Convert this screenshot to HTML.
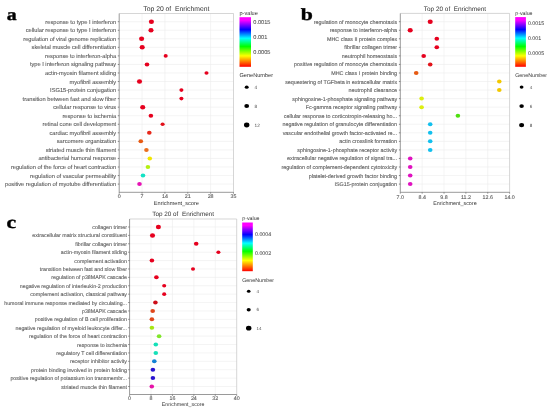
<!DOCTYPE html>
<html><head><meta charset="utf-8"><title>Top 20 of Enrichment</title>
<style>
html,body{margin:0;padding:0;background:#fff;}
body{width:550px;height:412px;overflow:hidden;}
svg{display:block;}
text{text-rendering:geometricPrecision;}
text[fill="#555555"]{stroke:#666;stroke-width:0.1px;}
</style></head>
<body>
<svg width="550" height="412" viewBox="0 0 550 412">
<rect width="550" height="412" fill="#fff"/>
<line x1="119.2" x2="233.5" y1="21.7" y2="21.7" stroke="#ececec" stroke-width="0.6"/>
<line x1="119.2" x2="233.5" y1="30.25" y2="30.25" stroke="#ececec" stroke-width="0.6"/>
<line x1="119.2" x2="233.5" y1="38.79" y2="38.79" stroke="#ececec" stroke-width="0.6"/>
<line x1="119.2" x2="233.5" y1="47.34" y2="47.34" stroke="#ececec" stroke-width="0.6"/>
<line x1="119.2" x2="233.5" y1="55.89" y2="55.89" stroke="#ececec" stroke-width="0.6"/>
<line x1="119.2" x2="233.5" y1="64.44" y2="64.44" stroke="#ececec" stroke-width="0.6"/>
<line x1="119.2" x2="233.5" y1="72.98" y2="72.98" stroke="#ececec" stroke-width="0.6"/>
<line x1="119.2" x2="233.5" y1="81.53" y2="81.53" stroke="#ececec" stroke-width="0.6"/>
<line x1="119.2" x2="233.5" y1="90.08" y2="90.08" stroke="#ececec" stroke-width="0.6"/>
<line x1="119.2" x2="233.5" y1="98.62" y2="98.62" stroke="#ececec" stroke-width="0.6"/>
<line x1="119.2" x2="233.5" y1="107.17" y2="107.17" stroke="#ececec" stroke-width="0.6"/>
<line x1="119.2" x2="233.5" y1="115.72" y2="115.72" stroke="#ececec" stroke-width="0.6"/>
<line x1="119.2" x2="233.5" y1="124.26" y2="124.26" stroke="#ececec" stroke-width="0.6"/>
<line x1="119.2" x2="233.5" y1="132.81" y2="132.81" stroke="#ececec" stroke-width="0.6"/>
<line x1="119.2" x2="233.5" y1="141.36" y2="141.36" stroke="#ececec" stroke-width="0.6"/>
<line x1="119.2" x2="233.5" y1="149.91" y2="149.91" stroke="#ececec" stroke-width="0.6"/>
<line x1="119.2" x2="233.5" y1="158.45" y2="158.45" stroke="#ececec" stroke-width="0.6"/>
<line x1="119.2" x2="233.5" y1="167" y2="167" stroke="#ececec" stroke-width="0.6"/>
<line x1="119.2" x2="233.5" y1="175.55" y2="175.55" stroke="#ececec" stroke-width="0.6"/>
<line x1="119.2" x2="233.5" y1="184.09" y2="184.09" stroke="#ececec" stroke-width="0.6"/>
<line x1="142.06" x2="142.06" y1="13.5" y2="192.3" stroke="#ececec" stroke-width="0.6"/>
<line x1="164.92" x2="164.92" y1="13.5" y2="192.3" stroke="#ececec" stroke-width="0.6"/>
<line x1="187.78" x2="187.78" y1="13.5" y2="192.3" stroke="#ececec" stroke-width="0.6"/>
<line x1="210.64" x2="210.64" y1="13.5" y2="192.3" stroke="#ececec" stroke-width="0.6"/>
<path d="M119.2 13.5 H233.5 V192.3" fill="none" stroke="#c4c4c4" stroke-width="0.7"/>
<path d="M119.2 13.5 V192.3 H233.5" fill="none" stroke="#9a9a9a" stroke-width="1.0"/>
<line x1="117.8" x2="119.2" y1="21.7" y2="21.7" stroke="#6a6a6a" stroke-width="0.8"/>
<line x1="117.8" x2="119.2" y1="30.25" y2="30.25" stroke="#6a6a6a" stroke-width="0.8"/>
<line x1="117.8" x2="119.2" y1="38.79" y2="38.79" stroke="#6a6a6a" stroke-width="0.8"/>
<line x1="117.8" x2="119.2" y1="47.34" y2="47.34" stroke="#6a6a6a" stroke-width="0.8"/>
<line x1="117.8" x2="119.2" y1="55.89" y2="55.89" stroke="#6a6a6a" stroke-width="0.8"/>
<line x1="117.8" x2="119.2" y1="64.44" y2="64.44" stroke="#6a6a6a" stroke-width="0.8"/>
<line x1="117.8" x2="119.2" y1="72.98" y2="72.98" stroke="#6a6a6a" stroke-width="0.8"/>
<line x1="117.8" x2="119.2" y1="81.53" y2="81.53" stroke="#6a6a6a" stroke-width="0.8"/>
<line x1="117.8" x2="119.2" y1="90.08" y2="90.08" stroke="#6a6a6a" stroke-width="0.8"/>
<line x1="117.8" x2="119.2" y1="98.62" y2="98.62" stroke="#6a6a6a" stroke-width="0.8"/>
<line x1="117.8" x2="119.2" y1="107.17" y2="107.17" stroke="#6a6a6a" stroke-width="0.8"/>
<line x1="117.8" x2="119.2" y1="115.72" y2="115.72" stroke="#6a6a6a" stroke-width="0.8"/>
<line x1="117.8" x2="119.2" y1="124.26" y2="124.26" stroke="#6a6a6a" stroke-width="0.8"/>
<line x1="117.8" x2="119.2" y1="132.81" y2="132.81" stroke="#6a6a6a" stroke-width="0.8"/>
<line x1="117.8" x2="119.2" y1="141.36" y2="141.36" stroke="#6a6a6a" stroke-width="0.8"/>
<line x1="117.8" x2="119.2" y1="149.91" y2="149.91" stroke="#6a6a6a" stroke-width="0.8"/>
<line x1="117.8" x2="119.2" y1="158.45" y2="158.45" stroke="#6a6a6a" stroke-width="0.8"/>
<line x1="117.8" x2="119.2" y1="167" y2="167" stroke="#6a6a6a" stroke-width="0.8"/>
<line x1="117.8" x2="119.2" y1="175.55" y2="175.55" stroke="#6a6a6a" stroke-width="0.8"/>
<line x1="117.8" x2="119.2" y1="184.09" y2="184.09" stroke="#6a6a6a" stroke-width="0.8"/>
<line x1="119.2" x2="119.2" y1="192.3" y2="193.6" stroke="#6a6a6a" stroke-width="0.8"/>
<line x1="142.06" x2="142.06" y1="192.3" y2="193.6" stroke="#6a6a6a" stroke-width="0.8"/>
<line x1="164.92" x2="164.92" y1="192.3" y2="193.6" stroke="#6a6a6a" stroke-width="0.8"/>
<line x1="187.78" x2="187.78" y1="192.3" y2="193.6" stroke="#6a6a6a" stroke-width="0.8"/>
<line x1="210.64" x2="210.64" y1="192.3" y2="193.6" stroke="#6a6a6a" stroke-width="0.8"/>
<line x1="233.5" x2="233.5" y1="192.3" y2="193.6" stroke="#6a6a6a" stroke-width="0.8"/>
<text x="116.2" y="23.7" font-size="5.7" fill="#555555" text-anchor="end" font-weight="normal" font-family='"Liberation Sans", Arial, sans-serif'>response to type I interferon</text>
<text x="116.2" y="32.25" font-size="5.7" fill="#555555" text-anchor="end" font-weight="normal" font-family='"Liberation Sans", Arial, sans-serif'>cellular response to type I interferon</text>
<text x="116.2" y="40.79" font-size="5.7" fill="#555555" text-anchor="end" font-weight="normal" font-family='"Liberation Sans", Arial, sans-serif'>regulation of viral genome replication</text>
<text x="116.2" y="49.34" font-size="5.7" fill="#555555" text-anchor="end" font-weight="normal" font-family='"Liberation Sans", Arial, sans-serif'>skeletal muscle cell differentiation</text>
<text x="116.2" y="57.89" font-size="5.7" fill="#555555" text-anchor="end" font-weight="normal" font-family='"Liberation Sans", Arial, sans-serif'>response to interferon-alpha</text>
<text x="116.2" y="66.44" font-size="5.7" fill="#555555" text-anchor="end" font-weight="normal" font-family='"Liberation Sans", Arial, sans-serif'>type I interferon signaling pathway</text>
<text x="116.2" y="74.98" font-size="5.7" fill="#555555" text-anchor="end" font-weight="normal" font-family='"Liberation Sans", Arial, sans-serif'>actin-myosin filament sliding</text>
<text x="116.2" y="83.53" font-size="5.7" fill="#555555" text-anchor="end" font-weight="normal" font-family='"Liberation Sans", Arial, sans-serif'>myofibril assembly</text>
<text x="116.2" y="92.08" font-size="5.7" fill="#555555" text-anchor="end" font-weight="normal" font-family='"Liberation Sans", Arial, sans-serif'>ISG15-protein conjugation</text>
<text x="116.2" y="100.62" font-size="5.7" fill="#555555" text-anchor="end" font-weight="normal" font-family='"Liberation Sans", Arial, sans-serif'>transition between fast and slow fiber</text>
<text x="116.2" y="109.17" font-size="5.7" fill="#555555" text-anchor="end" font-weight="normal" font-family='"Liberation Sans", Arial, sans-serif'>cellular response to virus</text>
<text x="116.2" y="117.72" font-size="5.7" fill="#555555" text-anchor="end" font-weight="normal" font-family='"Liberation Sans", Arial, sans-serif'>response to ischemia</text>
<text x="116.2" y="126.26" font-size="5.7" fill="#555555" text-anchor="end" font-weight="normal" font-family='"Liberation Sans", Arial, sans-serif'>retinal cone cell development</text>
<text x="116.2" y="134.81" font-size="5.7" fill="#555555" text-anchor="end" font-weight="normal" font-family='"Liberation Sans", Arial, sans-serif'>cardiac myofibril assembly</text>
<text x="116.2" y="143.36" font-size="5.7" fill="#555555" text-anchor="end" font-weight="normal" font-family='"Liberation Sans", Arial, sans-serif'>sarcomere organization</text>
<text x="116.2" y="151.91" font-size="5.7" fill="#555555" text-anchor="end" font-weight="normal" font-family='"Liberation Sans", Arial, sans-serif'>striated muscle thin filament</text>
<text x="116.2" y="160.45" font-size="5.7" fill="#555555" text-anchor="end" font-weight="normal" font-family='"Liberation Sans", Arial, sans-serif'>antibacterial humoral response</text>
<text x="116.2" y="169" font-size="5.7" fill="#555555" text-anchor="end" font-weight="normal" font-family='"Liberation Sans", Arial, sans-serif'>regulation of the force of heart contraction</text>
<text x="116.2" y="177.55" font-size="5.7" fill="#555555" text-anchor="end" font-weight="normal" font-family='"Liberation Sans", Arial, sans-serif'>regulation of vascular permeability</text>
<text x="116.2" y="186.09" font-size="5.7" fill="#555555" text-anchor="end" font-weight="normal" font-family='"Liberation Sans", Arial, sans-serif'>positive regulation of myotube differentiation</text>
<text x="119.2" y="198.2" font-size="5.3" fill="#555555" text-anchor="middle" font-weight="normal" font-family='"Liberation Sans", Arial, sans-serif'>0</text>
<text x="142.06" y="198.2" font-size="5.3" fill="#555555" text-anchor="middle" font-weight="normal" font-family='"Liberation Sans", Arial, sans-serif'>7</text>
<text x="164.92" y="198.2" font-size="5.3" fill="#555555" text-anchor="middle" font-weight="normal" font-family='"Liberation Sans", Arial, sans-serif'>14</text>
<text x="187.78" y="198.2" font-size="5.3" fill="#555555" text-anchor="middle" font-weight="normal" font-family='"Liberation Sans", Arial, sans-serif'>21</text>
<text x="210.64" y="198.2" font-size="5.3" fill="#555555" text-anchor="middle" font-weight="normal" font-family='"Liberation Sans", Arial, sans-serif'>28</text>
<text x="233.5" y="198.2" font-size="5.3" fill="#555555" text-anchor="middle" font-weight="normal" font-family='"Liberation Sans", Arial, sans-serif'>35</text>
<text x="176.35" y="204.9" font-size="5.6" fill="#333333" text-anchor="middle" font-weight="normal" font-family='"Liberation Sans", Arial, sans-serif'>Enrichment_score</text>
<text x="176.35" y="10.9" font-size="6.8" fill="#333333" text-anchor="middle" font-weight="normal" font-family='"Liberation Sans", Arial, sans-serif'>Top 20 of  Enrichment</text>
<ellipse cx="151.4" cy="21.7" rx="2.55" ry="2.25" fill="#e6001e"/>
<ellipse cx="151" cy="30.25" rx="2.55" ry="2.25" fill="#e6001e"/>
<ellipse cx="141.6" cy="38.79" rx="2.55" ry="2.25" fill="#e6001e"/>
<ellipse cx="142.2" cy="47.34" rx="2.55" ry="2.25" fill="#e6001e"/>
<ellipse cx="165.7" cy="55.89" rx="2.05" ry="1.8" fill="#e6001e"/>
<ellipse cx="147" cy="64.44" rx="2.3" ry="2" fill="#e6001e"/>
<ellipse cx="206.5" cy="72.98" rx="2.05" ry="1.8" fill="#e6001e"/>
<ellipse cx="139.5" cy="81.53" rx="2.55" ry="2.25" fill="#e6001e"/>
<ellipse cx="181.4" cy="90.08" rx="2.05" ry="1.8" fill="#e6001e"/>
<ellipse cx="181.4" cy="98.62" rx="2.05" ry="1.8" fill="#e6001e"/>
<ellipse cx="142.7" cy="107.17" rx="2.55" ry="2.25" fill="#e6001e"/>
<ellipse cx="150.9" cy="115.72" rx="2.3" ry="2" fill="#e6001e"/>
<ellipse cx="162.6" cy="124.26" rx="2.05" ry="1.8" fill="#e2101a"/>
<ellipse cx="149.3" cy="132.81" rx="2.3" ry="2" fill="#e8281a"/>
<ellipse cx="140.8" cy="141.36" rx="2.3" ry="2" fill="#e85a12"/>
<ellipse cx="146.4" cy="149.91" rx="2.3" ry="2" fill="#ea6e1e"/>
<ellipse cx="149.8" cy="158.45" rx="2.3" ry="2" fill="#f2e600"/>
<ellipse cx="147.9" cy="167" rx="2.3" ry="2" fill="#b4f010"/>
<ellipse cx="143" cy="175.55" rx="2.3" ry="2" fill="#12e2c4"/>
<ellipse cx="139.5" cy="184.09" rx="2.3" ry="2" fill="#e612b4"/>
<text transform="translate(6.8,20.2) scale(1.2,1)" font-size="16.5" fill="#000" stroke="#000" stroke-width="0.35" font-weight="bold" font-family='"Liberation Serif", "Times New Roman", serif'>a</text>
<defs><linearGradient id="ga" x1="0" y1="1" x2="0" y2="0"><stop offset="0" stop-color="#ff0000"/><stop offset="0.22" stop-color="#ffff00"/><stop offset="0.41" stop-color="#00ff00"/><stop offset="0.575" stop-color="#00ffff"/><stop offset="0.75" stop-color="#0000ff"/><stop offset="0.94" stop-color="#ff00ff"/><stop offset="1" stop-color="#ff00ff"/></linearGradient></defs>
<rect x="239.5" y="17.2" width="11.5" height="49.6" fill="url(#ga)"/>
<text x="239.5" y="14.8" font-size="5.6" fill="#333333" text-anchor="start" font-weight="normal" font-family='"Liberation Sans", Arial, sans-serif'>p-value</text>
<text x="253.3" y="24.02" font-size="5.6" fill="#555555" text-anchor="start" font-weight="normal" font-family='"Liberation Sans", Arial, sans-serif'>0.0015</text>
<text x="253.3" y="39.02" font-size="5.6" fill="#555555" text-anchor="start" font-weight="normal" font-family='"Liberation Sans", Arial, sans-serif'>0.001</text>
<text x="253.3" y="54.02" font-size="5.6" fill="#555555" text-anchor="start" font-weight="normal" font-family='"Liberation Sans", Arial, sans-serif'>0.0005</text>
<text x="239.5" y="77.1" font-size="5.6" fill="#333333" text-anchor="start" font-weight="normal" font-family='"Liberation Sans", Arial, sans-serif'>GeneNumber</text>
<ellipse cx="246.7" cy="87.2" rx="1.95" ry="1.65" fill="#000"/>
<text x="254.6" y="88.88" font-size="4.76" fill="#505050" text-anchor="start" font-weight="normal" font-family='"Liberation Sans", Arial, sans-serif'>4</text>
<ellipse cx="246.7" cy="106" rx="2.4" ry="2.05" fill="#000"/>
<text x="254.6" y="107.68" font-size="4.76" fill="#505050" text-anchor="start" font-weight="normal" font-family='"Liberation Sans", Arial, sans-serif'>8</text>
<ellipse cx="246.7" cy="125" rx="2.75" ry="2.45" fill="#000"/>
<text x="254.6" y="126.68" font-size="4.76" fill="#505050" text-anchor="start" font-weight="normal" font-family='"Liberation Sans", Arial, sans-serif'>12</text>
<line x1="400.3" x2="509.6" y1="21.7" y2="21.7" stroke="#ececec" stroke-width="0.6"/>
<line x1="400.3" x2="509.6" y1="30.25" y2="30.25" stroke="#ececec" stroke-width="0.6"/>
<line x1="400.3" x2="509.6" y1="38.79" y2="38.79" stroke="#ececec" stroke-width="0.6"/>
<line x1="400.3" x2="509.6" y1="47.34" y2="47.34" stroke="#ececec" stroke-width="0.6"/>
<line x1="400.3" x2="509.6" y1="55.89" y2="55.89" stroke="#ececec" stroke-width="0.6"/>
<line x1="400.3" x2="509.6" y1="64.44" y2="64.44" stroke="#ececec" stroke-width="0.6"/>
<line x1="400.3" x2="509.6" y1="72.98" y2="72.98" stroke="#ececec" stroke-width="0.6"/>
<line x1="400.3" x2="509.6" y1="81.53" y2="81.53" stroke="#ececec" stroke-width="0.6"/>
<line x1="400.3" x2="509.6" y1="90.08" y2="90.08" stroke="#ececec" stroke-width="0.6"/>
<line x1="400.3" x2="509.6" y1="98.62" y2="98.62" stroke="#ececec" stroke-width="0.6"/>
<line x1="400.3" x2="509.6" y1="107.17" y2="107.17" stroke="#ececec" stroke-width="0.6"/>
<line x1="400.3" x2="509.6" y1="115.72" y2="115.72" stroke="#ececec" stroke-width="0.6"/>
<line x1="400.3" x2="509.6" y1="124.26" y2="124.26" stroke="#ececec" stroke-width="0.6"/>
<line x1="400.3" x2="509.6" y1="132.81" y2="132.81" stroke="#ececec" stroke-width="0.6"/>
<line x1="400.3" x2="509.6" y1="141.36" y2="141.36" stroke="#ececec" stroke-width="0.6"/>
<line x1="400.3" x2="509.6" y1="149.91" y2="149.91" stroke="#ececec" stroke-width="0.6"/>
<line x1="400.3" x2="509.6" y1="158.45" y2="158.45" stroke="#ececec" stroke-width="0.6"/>
<line x1="400.3" x2="509.6" y1="167" y2="167" stroke="#ececec" stroke-width="0.6"/>
<line x1="400.3" x2="509.6" y1="175.55" y2="175.55" stroke="#ececec" stroke-width="0.6"/>
<line x1="400.3" x2="509.6" y1="184.09" y2="184.09" stroke="#ececec" stroke-width="0.6"/>
<line x1="422.16" x2="422.16" y1="13.4" y2="192.3" stroke="#ececec" stroke-width="0.6"/>
<line x1="444.02" x2="444.02" y1="13.4" y2="192.3" stroke="#ececec" stroke-width="0.6"/>
<line x1="465.88" x2="465.88" y1="13.4" y2="192.3" stroke="#ececec" stroke-width="0.6"/>
<line x1="487.74" x2="487.74" y1="13.4" y2="192.3" stroke="#ececec" stroke-width="0.6"/>
<path d="M400.3 13.4 H509.6 V192.3" fill="none" stroke="#c4c4c4" stroke-width="0.7"/>
<path d="M400.3 13.4 V192.3 H509.6" fill="none" stroke="#9a9a9a" stroke-width="1.0"/>
<line x1="398.9" x2="400.3" y1="21.7" y2="21.7" stroke="#6a6a6a" stroke-width="0.8"/>
<line x1="398.9" x2="400.3" y1="30.25" y2="30.25" stroke="#6a6a6a" stroke-width="0.8"/>
<line x1="398.9" x2="400.3" y1="38.79" y2="38.79" stroke="#6a6a6a" stroke-width="0.8"/>
<line x1="398.9" x2="400.3" y1="47.34" y2="47.34" stroke="#6a6a6a" stroke-width="0.8"/>
<line x1="398.9" x2="400.3" y1="55.89" y2="55.89" stroke="#6a6a6a" stroke-width="0.8"/>
<line x1="398.9" x2="400.3" y1="64.44" y2="64.44" stroke="#6a6a6a" stroke-width="0.8"/>
<line x1="398.9" x2="400.3" y1="72.98" y2="72.98" stroke="#6a6a6a" stroke-width="0.8"/>
<line x1="398.9" x2="400.3" y1="81.53" y2="81.53" stroke="#6a6a6a" stroke-width="0.8"/>
<line x1="398.9" x2="400.3" y1="90.08" y2="90.08" stroke="#6a6a6a" stroke-width="0.8"/>
<line x1="398.9" x2="400.3" y1="98.62" y2="98.62" stroke="#6a6a6a" stroke-width="0.8"/>
<line x1="398.9" x2="400.3" y1="107.17" y2="107.17" stroke="#6a6a6a" stroke-width="0.8"/>
<line x1="398.9" x2="400.3" y1="115.72" y2="115.72" stroke="#6a6a6a" stroke-width="0.8"/>
<line x1="398.9" x2="400.3" y1="124.26" y2="124.26" stroke="#6a6a6a" stroke-width="0.8"/>
<line x1="398.9" x2="400.3" y1="132.81" y2="132.81" stroke="#6a6a6a" stroke-width="0.8"/>
<line x1="398.9" x2="400.3" y1="141.36" y2="141.36" stroke="#6a6a6a" stroke-width="0.8"/>
<line x1="398.9" x2="400.3" y1="149.91" y2="149.91" stroke="#6a6a6a" stroke-width="0.8"/>
<line x1="398.9" x2="400.3" y1="158.45" y2="158.45" stroke="#6a6a6a" stroke-width="0.8"/>
<line x1="398.9" x2="400.3" y1="167" y2="167" stroke="#6a6a6a" stroke-width="0.8"/>
<line x1="398.9" x2="400.3" y1="175.55" y2="175.55" stroke="#6a6a6a" stroke-width="0.8"/>
<line x1="398.9" x2="400.3" y1="184.09" y2="184.09" stroke="#6a6a6a" stroke-width="0.8"/>
<line x1="400.3" x2="400.3" y1="192.3" y2="193.6" stroke="#6a6a6a" stroke-width="0.8"/>
<line x1="422.16" x2="422.16" y1="192.3" y2="193.6" stroke="#6a6a6a" stroke-width="0.8"/>
<line x1="444.02" x2="444.02" y1="192.3" y2="193.6" stroke="#6a6a6a" stroke-width="0.8"/>
<line x1="465.88" x2="465.88" y1="192.3" y2="193.6" stroke="#6a6a6a" stroke-width="0.8"/>
<line x1="487.74" x2="487.74" y1="192.3" y2="193.6" stroke="#6a6a6a" stroke-width="0.8"/>
<line x1="509.6" x2="509.6" y1="192.3" y2="193.6" stroke="#6a6a6a" stroke-width="0.8"/>
<text x="397.1" y="23.7" font-size="5.4" fill="#555555" text-anchor="end" font-weight="normal" font-family='"Liberation Sans", Arial, sans-serif'>regulation of monocyte chemotaxis</text>
<text x="397.1" y="32.25" font-size="5.4" fill="#555555" text-anchor="end" font-weight="normal" font-family='"Liberation Sans", Arial, sans-serif'>response to interferon-alpha</text>
<text x="397.1" y="40.79" font-size="5.4" fill="#555555" text-anchor="end" font-weight="normal" font-family='"Liberation Sans", Arial, sans-serif'>MHC class II protein complex</text>
<text x="397.1" y="49.34" font-size="5.4" fill="#555555" text-anchor="end" font-weight="normal" font-family='"Liberation Sans", Arial, sans-serif'>fibrillar collagen trimer</text>
<text x="397.1" y="57.89" font-size="5.4" fill="#555555" text-anchor="end" font-weight="normal" font-family='"Liberation Sans", Arial, sans-serif'>neutrophil homeostasis</text>
<text x="397.1" y="66.44" font-size="5.4" fill="#555555" text-anchor="end" font-weight="normal" font-family='"Liberation Sans", Arial, sans-serif'>positive regulation of monocyte chemotaxis</text>
<text x="397.1" y="74.98" font-size="5.4" fill="#555555" text-anchor="end" font-weight="normal" font-family='"Liberation Sans", Arial, sans-serif'>MHC class I protein binding</text>
<text x="397.1" y="83.53" font-size="5.4" fill="#555555" text-anchor="end" font-weight="normal" font-family='"Liberation Sans", Arial, sans-serif'>sequestering of TGFbeta in extracellular matrix</text>
<text x="397.1" y="92.08" font-size="5.4" fill="#555555" text-anchor="end" font-weight="normal" font-family='"Liberation Sans", Arial, sans-serif'>neutrophil clearance</text>
<text x="397.1" y="100.62" font-size="5.4" fill="#555555" text-anchor="end" font-weight="normal" font-family='"Liberation Sans", Arial, sans-serif'>sphingosine-1-phosphate signaling pathway</text>
<text x="397.1" y="109.17" font-size="5.4" fill="#555555" text-anchor="end" font-weight="normal" font-family='"Liberation Sans", Arial, sans-serif'>Fc-gamma receptor signaling pathway</text>
<text x="397.1" y="117.72" font-size="5.4" fill="#555555" text-anchor="end" font-weight="normal" font-family='"Liberation Sans", Arial, sans-serif'>cellular response to corticotropin-releasing ho...</text>
<text x="397.1" y="126.26" font-size="5.4" fill="#555555" text-anchor="end" font-weight="normal" font-family='"Liberation Sans", Arial, sans-serif'>negative regulation of granulocyte differentiation</text>
<text x="397.1" y="134.81" font-size="5.4" fill="#555555" text-anchor="end" font-weight="normal" font-family='"Liberation Sans", Arial, sans-serif'>vascular endothelial growth factor-activated re...</text>
<text x="397.1" y="143.36" font-size="5.4" fill="#555555" text-anchor="end" font-weight="normal" font-family='"Liberation Sans", Arial, sans-serif'>actin crosslink formation</text>
<text x="397.1" y="151.91" font-size="5.4" fill="#555555" text-anchor="end" font-weight="normal" font-family='"Liberation Sans", Arial, sans-serif'>sphingosine-1-phosphate receptor activity</text>
<text x="397.1" y="160.45" font-size="5.4" fill="#555555" text-anchor="end" font-weight="normal" font-family='"Liberation Sans", Arial, sans-serif'>extracellular negative regulation of signal tra...</text>
<text x="397.1" y="169" font-size="5.4" fill="#555555" text-anchor="end" font-weight="normal" font-family='"Liberation Sans", Arial, sans-serif'>regulation of complement-dependent cytotoxicity</text>
<text x="397.1" y="177.55" font-size="5.4" fill="#555555" text-anchor="end" font-weight="normal" font-family='"Liberation Sans", Arial, sans-serif'>platelet-derived growth factor binding</text>
<text x="397.1" y="186.09" font-size="5.4" fill="#555555" text-anchor="end" font-weight="normal" font-family='"Liberation Sans", Arial, sans-serif'>ISG15-protein conjugation</text>
<text x="400.3" y="198.8" font-size="5.3" fill="#555555" text-anchor="middle" font-weight="normal" font-family='"Liberation Sans", Arial, sans-serif'>7.0</text>
<text x="422.16" y="198.8" font-size="5.3" fill="#555555" text-anchor="middle" font-weight="normal" font-family='"Liberation Sans", Arial, sans-serif'>8.4</text>
<text x="444.02" y="198.8" font-size="5.3" fill="#555555" text-anchor="middle" font-weight="normal" font-family='"Liberation Sans", Arial, sans-serif'>9.8</text>
<text x="465.88" y="198.8" font-size="5.3" fill="#555555" text-anchor="middle" font-weight="normal" font-family='"Liberation Sans", Arial, sans-serif'>11.2</text>
<text x="487.74" y="198.8" font-size="5.3" fill="#555555" text-anchor="middle" font-weight="normal" font-family='"Liberation Sans", Arial, sans-serif'>12.6</text>
<text x="509.6" y="198.8" font-size="5.3" fill="#555555" text-anchor="middle" font-weight="normal" font-family='"Liberation Sans", Arial, sans-serif'>14.0</text>
<text x="454.95" y="204.9" font-size="5.4" fill="#333333" text-anchor="middle" font-weight="normal" font-family='"Liberation Sans", Arial, sans-serif'>Enrichment_score</text>
<text x="454.95" y="10.9" font-size="6.4" fill="#333333" text-anchor="middle" font-weight="normal" font-family='"Liberation Sans", Arial, sans-serif'>Top 20 of  Enrichment</text>
<ellipse cx="430.2" cy="21.7" rx="2.55" ry="2.25" fill="#e6001e"/>
<ellipse cx="410.2" cy="30.25" rx="2.55" ry="2.25" fill="#e6001e"/>
<ellipse cx="436.8" cy="38.79" rx="2.3" ry="2" fill="#e6001e"/>
<ellipse cx="436.8" cy="47.34" rx="2.3" ry="2" fill="#e6001e"/>
<ellipse cx="423.7" cy="55.89" rx="2.3" ry="2" fill="#e6001e"/>
<ellipse cx="430.2" cy="64.44" rx="2.3" ry="2" fill="#e2141a"/>
<ellipse cx="416.2" cy="72.98" rx="2.3" ry="2" fill="#e65a12"/>
<ellipse cx="499.3" cy="81.53" rx="2.3" ry="2" fill="#f2c800"/>
<ellipse cx="499.3" cy="90.08" rx="2.3" ry="2" fill="#f2c800"/>
<ellipse cx="421.6" cy="98.62" rx="2.3" ry="2" fill="#dcee10"/>
<ellipse cx="421.6" cy="107.17" rx="2.3" ry="2" fill="#dcee10"/>
<ellipse cx="457.9" cy="115.72" rx="2.3" ry="2" fill="#4ee010"/>
<ellipse cx="430.2" cy="124.26" rx="2.3" ry="2" fill="#12c0ee"/>
<ellipse cx="430.2" cy="132.81" rx="2.3" ry="2" fill="#12c0ee"/>
<ellipse cx="430.2" cy="141.36" rx="2.3" ry="2" fill="#12c0ee"/>
<ellipse cx="430.2" cy="149.91" rx="2.3" ry="2" fill="#12c0ee"/>
<ellipse cx="410.2" cy="158.45" rx="2.3" ry="2" fill="#e012c0"/>
<ellipse cx="410.2" cy="167" rx="2.3" ry="2" fill="#e012c0"/>
<ellipse cx="410.2" cy="175.55" rx="2.3" ry="2" fill="#e012c0"/>
<ellipse cx="410.2" cy="184.09" rx="2.3" ry="2" fill="#e012c0"/>
<text transform="translate(300.8,20.2) scale(1.28,1)" font-size="17" fill="#000" stroke="#000" stroke-width="0.35" font-weight="bold" font-family='"Liberation Serif", "Times New Roman", serif'>b</text>
<defs><linearGradient id="gb" x1="0" y1="1" x2="0" y2="0"><stop offset="0" stop-color="#ff0000"/><stop offset="0.22" stop-color="#ffff00"/><stop offset="0.41" stop-color="#00ff00"/><stop offset="0.575" stop-color="#00ffff"/><stop offset="0.75" stop-color="#0000ff"/><stop offset="0.94" stop-color="#ff00ff"/><stop offset="1" stop-color="#ff00ff"/></linearGradient></defs>
<rect x="515.2" y="17.1" width="10.7" height="49.7" fill="url(#gb)"/>
<text x="515.2" y="14.8" font-size="5.3" fill="#333333" text-anchor="start" font-weight="normal" font-family='"Liberation Sans", Arial, sans-serif'>p-value</text>
<text x="527.9" y="25.31" font-size="5.3" fill="#555555" text-anchor="start" font-weight="normal" font-family='"Liberation Sans", Arial, sans-serif'>0.0015</text>
<text x="527.9" y="40.11" font-size="5.3" fill="#555555" text-anchor="start" font-weight="normal" font-family='"Liberation Sans", Arial, sans-serif'>0.001</text>
<text x="527.9" y="55.01" font-size="5.3" fill="#555555" text-anchor="start" font-weight="normal" font-family='"Liberation Sans", Arial, sans-serif'>0.0005</text>
<text x="515.2" y="77.1" font-size="5.3" fill="#333333" text-anchor="start" font-weight="normal" font-family='"Liberation Sans", Arial, sans-serif'>GeneNumber</text>
<ellipse cx="521.6" cy="87.1" rx="1.9" ry="1.65" fill="#000"/>
<text x="529.8" y="88.69" font-size="4.505" fill="#505050" text-anchor="start" font-weight="normal" font-family='"Liberation Sans", Arial, sans-serif'>4</text>
<ellipse cx="521.6" cy="106.1" rx="2.25" ry="1.95" fill="#000"/>
<text x="529.8" y="107.69" font-size="4.505" fill="#505050" text-anchor="start" font-weight="normal" font-family='"Liberation Sans", Arial, sans-serif'>6</text>
<ellipse cx="521.6" cy="125.1" rx="2.55" ry="2.2" fill="#000"/>
<text x="529.8" y="126.69" font-size="4.505" fill="#505050" text-anchor="start" font-weight="normal" font-family='"Liberation Sans", Arial, sans-serif'>8</text>
<line x1="129.6" x2="236.7" y1="227" y2="227" stroke="#ececec" stroke-width="0.6"/>
<line x1="129.6" x2="236.7" y1="235.4" y2="235.4" stroke="#ececec" stroke-width="0.6"/>
<line x1="129.6" x2="236.7" y1="243.79" y2="243.79" stroke="#ececec" stroke-width="0.6"/>
<line x1="129.6" x2="236.7" y1="252.19" y2="252.19" stroke="#ececec" stroke-width="0.6"/>
<line x1="129.6" x2="236.7" y1="260.58" y2="260.58" stroke="#ececec" stroke-width="0.6"/>
<line x1="129.6" x2="236.7" y1="268.98" y2="268.98" stroke="#ececec" stroke-width="0.6"/>
<line x1="129.6" x2="236.7" y1="277.37" y2="277.37" stroke="#ececec" stroke-width="0.6"/>
<line x1="129.6" x2="236.7" y1="285.76" y2="285.76" stroke="#ececec" stroke-width="0.6"/>
<line x1="129.6" x2="236.7" y1="294.16" y2="294.16" stroke="#ececec" stroke-width="0.6"/>
<line x1="129.6" x2="236.7" y1="302.56" y2="302.56" stroke="#ececec" stroke-width="0.6"/>
<line x1="129.6" x2="236.7" y1="310.95" y2="310.95" stroke="#ececec" stroke-width="0.6"/>
<line x1="129.6" x2="236.7" y1="319.35" y2="319.35" stroke="#ececec" stroke-width="0.6"/>
<line x1="129.6" x2="236.7" y1="327.74" y2="327.74" stroke="#ececec" stroke-width="0.6"/>
<line x1="129.6" x2="236.7" y1="336.13" y2="336.13" stroke="#ececec" stroke-width="0.6"/>
<line x1="129.6" x2="236.7" y1="344.53" y2="344.53" stroke="#ececec" stroke-width="0.6"/>
<line x1="129.6" x2="236.7" y1="352.93" y2="352.93" stroke="#ececec" stroke-width="0.6"/>
<line x1="129.6" x2="236.7" y1="361.32" y2="361.32" stroke="#ececec" stroke-width="0.6"/>
<line x1="129.6" x2="236.7" y1="369.72" y2="369.72" stroke="#ececec" stroke-width="0.6"/>
<line x1="129.6" x2="236.7" y1="378.11" y2="378.11" stroke="#ececec" stroke-width="0.6"/>
<line x1="129.6" x2="236.7" y1="386.5" y2="386.5" stroke="#ececec" stroke-width="0.6"/>
<line x1="151.02" x2="151.02" y1="219" y2="394.5" stroke="#ececec" stroke-width="0.6"/>
<line x1="172.44" x2="172.44" y1="219" y2="394.5" stroke="#ececec" stroke-width="0.6"/>
<line x1="193.86" x2="193.86" y1="219" y2="394.5" stroke="#ececec" stroke-width="0.6"/>
<line x1="215.28" x2="215.28" y1="219" y2="394.5" stroke="#ececec" stroke-width="0.6"/>
<path d="M129.6 219 H236.7 V394.5" fill="none" stroke="#c4c4c4" stroke-width="0.7"/>
<path d="M129.6 219 V394.5 H236.7" fill="none" stroke="#9a9a9a" stroke-width="1.0"/>
<line x1="128.2" x2="129.6" y1="227" y2="227" stroke="#6a6a6a" stroke-width="0.8"/>
<line x1="128.2" x2="129.6" y1="235.4" y2="235.4" stroke="#6a6a6a" stroke-width="0.8"/>
<line x1="128.2" x2="129.6" y1="243.79" y2="243.79" stroke="#6a6a6a" stroke-width="0.8"/>
<line x1="128.2" x2="129.6" y1="252.19" y2="252.19" stroke="#6a6a6a" stroke-width="0.8"/>
<line x1="128.2" x2="129.6" y1="260.58" y2="260.58" stroke="#6a6a6a" stroke-width="0.8"/>
<line x1="128.2" x2="129.6" y1="268.98" y2="268.98" stroke="#6a6a6a" stroke-width="0.8"/>
<line x1="128.2" x2="129.6" y1="277.37" y2="277.37" stroke="#6a6a6a" stroke-width="0.8"/>
<line x1="128.2" x2="129.6" y1="285.76" y2="285.76" stroke="#6a6a6a" stroke-width="0.8"/>
<line x1="128.2" x2="129.6" y1="294.16" y2="294.16" stroke="#6a6a6a" stroke-width="0.8"/>
<line x1="128.2" x2="129.6" y1="302.56" y2="302.56" stroke="#6a6a6a" stroke-width="0.8"/>
<line x1="128.2" x2="129.6" y1="310.95" y2="310.95" stroke="#6a6a6a" stroke-width="0.8"/>
<line x1="128.2" x2="129.6" y1="319.35" y2="319.35" stroke="#6a6a6a" stroke-width="0.8"/>
<line x1="128.2" x2="129.6" y1="327.74" y2="327.74" stroke="#6a6a6a" stroke-width="0.8"/>
<line x1="128.2" x2="129.6" y1="336.13" y2="336.13" stroke="#6a6a6a" stroke-width="0.8"/>
<line x1="128.2" x2="129.6" y1="344.53" y2="344.53" stroke="#6a6a6a" stroke-width="0.8"/>
<line x1="128.2" x2="129.6" y1="352.93" y2="352.93" stroke="#6a6a6a" stroke-width="0.8"/>
<line x1="128.2" x2="129.6" y1="361.32" y2="361.32" stroke="#6a6a6a" stroke-width="0.8"/>
<line x1="128.2" x2="129.6" y1="369.72" y2="369.72" stroke="#6a6a6a" stroke-width="0.8"/>
<line x1="128.2" x2="129.6" y1="378.11" y2="378.11" stroke="#6a6a6a" stroke-width="0.8"/>
<line x1="128.2" x2="129.6" y1="386.5" y2="386.5" stroke="#6a6a6a" stroke-width="0.8"/>
<line x1="129.6" x2="129.6" y1="394.5" y2="395.8" stroke="#6a6a6a" stroke-width="0.8"/>
<line x1="151.02" x2="151.02" y1="394.5" y2="395.8" stroke="#6a6a6a" stroke-width="0.8"/>
<line x1="172.44" x2="172.44" y1="394.5" y2="395.8" stroke="#6a6a6a" stroke-width="0.8"/>
<line x1="193.86" x2="193.86" y1="394.5" y2="395.8" stroke="#6a6a6a" stroke-width="0.8"/>
<line x1="215.28" x2="215.28" y1="394.5" y2="395.8" stroke="#6a6a6a" stroke-width="0.8"/>
<line x1="236.7" x2="236.7" y1="394.5" y2="395.8" stroke="#6a6a6a" stroke-width="0.8"/>
<text x="127" y="229" font-size="5.3" fill="#555555" text-anchor="end" font-weight="normal" font-family='"Liberation Sans", Arial, sans-serif'>collagen trimer</text>
<text x="127" y="237.4" font-size="5.3" fill="#555555" text-anchor="end" font-weight="normal" font-family='"Liberation Sans", Arial, sans-serif'>extracellular matrix structural constituent</text>
<text x="127" y="245.79" font-size="5.3" fill="#555555" text-anchor="end" font-weight="normal" font-family='"Liberation Sans", Arial, sans-serif'>fibrillar collagen trimer</text>
<text x="127" y="254.19" font-size="5.3" fill="#555555" text-anchor="end" font-weight="normal" font-family='"Liberation Sans", Arial, sans-serif'>actin-myosin filament sliding</text>
<text x="127" y="262.58" font-size="5.3" fill="#555555" text-anchor="end" font-weight="normal" font-family='"Liberation Sans", Arial, sans-serif'>complement activation</text>
<text x="127" y="270.98" font-size="5.3" fill="#555555" text-anchor="end" font-weight="normal" font-family='"Liberation Sans", Arial, sans-serif'>transition between fast and slow fiber</text>
<text x="127" y="279.37" font-size="5.3" fill="#555555" text-anchor="end" font-weight="normal" font-family='"Liberation Sans", Arial, sans-serif'>regulation of p38MAPK cascade</text>
<text x="127" y="287.76" font-size="5.3" fill="#555555" text-anchor="end" font-weight="normal" font-family='"Liberation Sans", Arial, sans-serif'>negative regulation of interleukin-2 production</text>
<text x="127" y="296.16" font-size="5.3" fill="#555555" text-anchor="end" font-weight="normal" font-family='"Liberation Sans", Arial, sans-serif'>complement activation, classical pathway</text>
<text x="127" y="304.56" font-size="5.3" fill="#555555" text-anchor="end" font-weight="normal" font-family='"Liberation Sans", Arial, sans-serif'>humoral immune response mediated by circulating...</text>
<text x="127" y="312.95" font-size="5.3" fill="#555555" text-anchor="end" font-weight="normal" font-family='"Liberation Sans", Arial, sans-serif'>p38MAPK cascade</text>
<text x="127" y="321.35" font-size="5.3" fill="#555555" text-anchor="end" font-weight="normal" font-family='"Liberation Sans", Arial, sans-serif'>positive regulation of B cell proliferation</text>
<text x="127" y="329.74" font-size="5.3" fill="#555555" text-anchor="end" font-weight="normal" font-family='"Liberation Sans", Arial, sans-serif'>negative regulation of myeloid leukocyte differ...</text>
<text x="127" y="338.13" font-size="5.3" fill="#555555" text-anchor="end" font-weight="normal" font-family='"Liberation Sans", Arial, sans-serif'>regulation of the force of heart contraction</text>
<text x="127" y="346.53" font-size="5.3" fill="#555555" text-anchor="end" font-weight="normal" font-family='"Liberation Sans", Arial, sans-serif'>response to ischemia</text>
<text x="127" y="354.93" font-size="5.3" fill="#555555" text-anchor="end" font-weight="normal" font-family='"Liberation Sans", Arial, sans-serif'>regulatory T cell differentiation</text>
<text x="127" y="363.32" font-size="5.3" fill="#555555" text-anchor="end" font-weight="normal" font-family='"Liberation Sans", Arial, sans-serif'>receptor inhibitor activity</text>
<text x="127" y="371.72" font-size="5.3" fill="#555555" text-anchor="end" font-weight="normal" font-family='"Liberation Sans", Arial, sans-serif'>protein binding involved in protein folding</text>
<text x="127" y="380.11" font-size="5.3" fill="#555555" text-anchor="end" font-weight="normal" font-family='"Liberation Sans", Arial, sans-serif'>positive regulation of potassium ion transmembr...</text>
<text x="127" y="388.5" font-size="5.3" fill="#555555" text-anchor="end" font-weight="normal" font-family='"Liberation Sans", Arial, sans-serif'>striated muscle thin filament</text>
<text x="129.6" y="400.3" font-size="5.3" fill="#555555" text-anchor="middle" font-weight="normal" font-family='"Liberation Sans", Arial, sans-serif'>0</text>
<text x="151.02" y="400.3" font-size="5.3" fill="#555555" text-anchor="middle" font-weight="normal" font-family='"Liberation Sans", Arial, sans-serif'>8</text>
<text x="172.44" y="400.3" font-size="5.3" fill="#555555" text-anchor="middle" font-weight="normal" font-family='"Liberation Sans", Arial, sans-serif'>16</text>
<text x="193.86" y="400.3" font-size="5.3" fill="#555555" text-anchor="middle" font-weight="normal" font-family='"Liberation Sans", Arial, sans-serif'>24</text>
<text x="215.28" y="400.3" font-size="5.3" fill="#555555" text-anchor="middle" font-weight="normal" font-family='"Liberation Sans", Arial, sans-serif'>32</text>
<text x="236.7" y="400.3" font-size="5.3" fill="#555555" text-anchor="middle" font-weight="normal" font-family='"Liberation Sans", Arial, sans-serif'>40</text>
<text x="183.15" y="406.4" font-size="5.3" fill="#333333" text-anchor="middle" font-weight="normal" font-family='"Liberation Sans", Arial, sans-serif'>Enrichment_score</text>
<text x="183.15" y="216.3" font-size="6.35" fill="#333333" text-anchor="middle" font-weight="normal" font-family='"Liberation Sans", Arial, sans-serif'>Top 20 of  Enrichment</text>
<ellipse cx="158.4" cy="227" rx="2.55" ry="2.25" fill="#e6001e"/>
<ellipse cx="152.5" cy="235.4" rx="2.55" ry="2.25" fill="#e6001e"/>
<ellipse cx="196.2" cy="243.79" rx="2.3" ry="2" fill="#e6001e"/>
<ellipse cx="218.4" cy="252.19" rx="2.05" ry="1.8" fill="#e6001e"/>
<ellipse cx="151.9" cy="260.58" rx="2.3" ry="2" fill="#e6001e"/>
<ellipse cx="193" cy="268.98" rx="2.05" ry="1.8" fill="#e6001e"/>
<ellipse cx="156.4" cy="277.37" rx="2.3" ry="2" fill="#e6001e"/>
<ellipse cx="164.2" cy="285.76" rx="2.05" ry="1.8" fill="#e6001e"/>
<ellipse cx="164.2" cy="294.16" rx="2.05" ry="1.8" fill="#e6001e"/>
<ellipse cx="155.4" cy="302.56" rx="2.3" ry="2" fill="#cc0c18"/>
<ellipse cx="152.7" cy="310.95" rx="2.3" ry="2" fill="#e0461a"/>
<ellipse cx="151.9" cy="319.35" rx="2.3" ry="2" fill="#e0461a"/>
<ellipse cx="151.9" cy="327.74" rx="2.3" ry="2" fill="#a6e614"/>
<ellipse cx="159.1" cy="336.13" rx="2.3" ry="2" fill="#80e62a"/>
<ellipse cx="155.8" cy="344.53" rx="2.3" ry="2" fill="#14e0b8"/>
<ellipse cx="155.8" cy="352.93" rx="2.3" ry="2" fill="#14e0b8"/>
<ellipse cx="154.3" cy="361.32" rx="2.3" ry="2" fill="#1282d4"/>
<ellipse cx="152.9" cy="369.72" rx="2.3" ry="2" fill="#2812d0"/>
<ellipse cx="152.9" cy="378.11" rx="2.3" ry="2" fill="#2812d0"/>
<ellipse cx="151.8" cy="386.5" rx="2.3" ry="2" fill="#e612a8"/>
<text transform="translate(6.6,228.3) scale(1.24,1)" font-size="17.5" fill="#000" stroke="#000" stroke-width="0.35" font-weight="bold" font-family='"Liberation Serif", "Times New Roman", serif'>c</text>
<defs><linearGradient id="gc" x1="0" y1="1" x2="0" y2="0"><stop offset="0" stop-color="#ff0000"/><stop offset="0.22" stop-color="#ffff00"/><stop offset="0.41" stop-color="#00ff00"/><stop offset="0.575" stop-color="#00ffff"/><stop offset="0.75" stop-color="#0000ff"/><stop offset="0.94" stop-color="#ff00ff"/><stop offset="1" stop-color="#ff00ff"/></linearGradient></defs>
<rect x="242.2" y="222.5" width="10.6" height="48.7" fill="url(#gc)"/>
<text x="242.2" y="220.3" font-size="5.3" fill="#333333" text-anchor="start" font-weight="normal" font-family='"Liberation Sans", Arial, sans-serif'>p-value</text>
<text x="255" y="236.11" font-size="5.3" fill="#555555" text-anchor="start" font-weight="normal" font-family='"Liberation Sans", Arial, sans-serif'>0.0004</text>
<text x="255" y="254.91" font-size="5.3" fill="#555555" text-anchor="start" font-weight="normal" font-family='"Liberation Sans", Arial, sans-serif'>0.0002</text>
<text x="242.2" y="281.6" font-size="5.3" fill="#333333" text-anchor="start" font-weight="normal" font-family='"Liberation Sans", Arial, sans-serif'>GeneNumber</text>
<ellipse cx="248.7" cy="291.2" rx="1.8" ry="1.55" fill="#000"/>
<text x="256.5" y="292.79" font-size="4.505" fill="#505050" text-anchor="start" font-weight="normal" font-family='"Liberation Sans", Arial, sans-serif'>4</text>
<ellipse cx="248.7" cy="309.8" rx="2.05" ry="1.8" fill="#000"/>
<text x="256.5" y="311.39" font-size="4.505" fill="#505050" text-anchor="start" font-weight="normal" font-family='"Liberation Sans", Arial, sans-serif'>6</text>
<ellipse cx="248.7" cy="328.2" rx="2.7" ry="2.4" fill="#000"/>
<text x="256.5" y="329.79" font-size="4.505" fill="#505050" text-anchor="start" font-weight="normal" font-family='"Liberation Sans", Arial, sans-serif'>14</text>
</svg>
</body></html>
